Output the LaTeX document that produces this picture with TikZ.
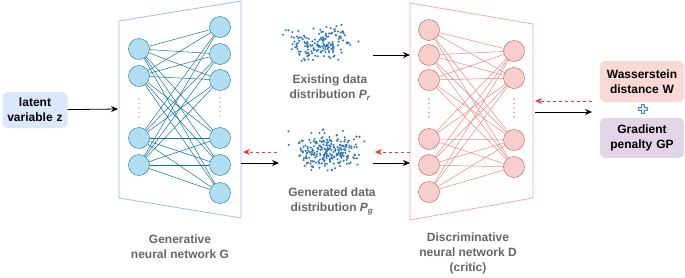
\documentclass[tikz,border=0pt]{standalone}
\usepackage{fontspec}
\setmainfont{Liberation Sans}
\usetikzlibrary{arrows.meta}
\definecolor{latentfill}{HTML}{DAE8FC}
\definecolor{genframe}{HTML}{9DBFEA}
\definecolor{genfill}{HTML}{B1DDF0}
\definecolor{genline}{HTML}{10739E}
\definecolor{disframe}{HTML}{F4A9A6}
\definecolor{disfill}{HTML}{F8CECC}
\definecolor{disline}{HTML}{B85450}
\definecolor{disedge}{HTML}{EE8583}
\definecolor{wfill}{HTML}{FAD9D5}
\definecolor{gpfill}{HTML}{E1D5E7}
\definecolor{labelgray}{HTML}{666666}
\definecolor{dotblue}{HTML}{2F78BE}
\definecolor{backred}{HTML}{FF3333}
\begin{document}
\begin{tikzpicture}[x=1pt,y=-1pt,
    font=\fontsize{12}{15}\selectfont\bfseries,
    neuG/.style={circle, draw=genline, fill=genfill, minimum size=21pt, inner sep=0pt},
    neuD/.style={circle, draw=disline, fill=disfill, minimum size=21pt, inner sep=0pt},
    edgeG/.style={genline, line width=0.5pt},
    edgeD/.style={disedge, line width=0.5pt},
    vdots/.style={line width=1.6pt, line cap=round, dash pattern=on 0pt off 4.5pt},
    box/.style={rounded corners=5pt, align=center, text=black, inner xsep=0pt, inner ysep=1pt},
    caption/.style={align=center, text=labelgray},
    fwd/.style={-{Stealth[length=7pt,width=6pt]}, black, line width=0.8pt},
    back/.style={-{Stealth[length=7pt,width=6pt]}, backred, dashed, line width=0.8pt}]
    \useasboundingbox (0,0) rectangle (685,277);

    % latent input
    \node[box, fill=latentfill, text width=65pt, minimum height=36pt] (latent) at (35,110) {latent\\variable z};

    % Generator
    \draw[genframe, line width=0.8pt] (119,21) -- (241,1) -- (241,218) -- (119,198) -- cycle;
    \foreach \y [count=\i] in {49,76,138,165}
        \node[neuG] (gl\i) at (139,\y) {};
    \foreach \y [count=\i] in {27,54,80,138,165,193}
        \node[neuG] (gr\i) at (220,\y) {};
    \foreach \i in {1,...,4}
        \foreach \j in {1,...,6}
            \draw[edgeG] (gl\i) -- (gr\j);
    \draw[vdots, genframe] (139,99) -- (139,121);
    \draw[vdots, genframe] (220,98) -- (220,120);
    \node[caption] (capG) at (180,246.5) {Generative\\neural network G};

    % Discriminator (critic)
    \draw[disframe, line width=0.8pt] (410,3) -- (533,24) -- (533,198) -- (410,220) -- cycle;
    \foreach \y [count=\i] in {30,55,80,139,165,192}
        \node[neuD] (dl\i) at (429,\y) {};
    \foreach \y [count=\i] in {51,78,140,167}
        \node[neuD] (dr\i) at (514,\y) {};
    \foreach \i in {1,...,6}
        \foreach \j in {1,...,4}
            \draw[edgeD] (dl\i) -- (dr\j);
    \draw[vdots, disedge] (429,99) -- (429,121);
    \draw[vdots, disedge] (514,99) -- (514,121);
    \node[caption] (capD) at (468,253.5) {Discriminative\\neural network D\\(critic)};

    % data clouds
    \pgfmathsetseed{4217}
    \foreach \k in {1,...,170}{
        \pgfmathsetmacro\px{320+15*(rand+rand+rand)}
        \pgfmathsetmacro\py{43+8.5*(rand+rand+rand)}
        \fill[dotblue] (\px,\py) circle (1.15pt);
    }
    \foreach \k in {1,...,240}{
        \pgfmathsetmacro\px{327+14.5*(rand+rand+rand)}
        \pgfmathsetmacro\py{152+9*(rand+rand+rand)}
        \fill[dotblue] (\px,\py) circle (1.15pt);
    }
    \node[caption] (capR) at (330,88) {Existing data\\distribution {\itshape P}\textsubscript{\itshape r}};
    \node[caption] (capGen) at (332,201.5) {Generated data\\distribution {\itshape P}\textsubscript{\itshape g}};

    % loss boxes
    \node[box, fill=wfill, text width=84pt, minimum height=41pt] (wdist) at (642,81.5) {Wasserstein\\distance W};
    \node[box, fill=gpfill, text width=84pt, minimum height=40pt] (gpen) at (642,138) {Gradient\\penalty GP};
    \draw[fill=latentfill, draw=genline!80, line width=0.5pt]
        (641.7,104.5) -- (644.3,104.5) -- (644.3,107.7) -- (647.5,107.7) -- (647.5,110.3) -- (644.3,110.3)
        -- (644.3,113.5) -- (641.7,113.5) -- (641.7,110.3) -- (638.5,110.3) -- (638.5,107.7) -- (641.7,107.7) -- cycle;

    % arrow ends
    \coordinate (gIn) at (118,109);
    \coordinate (gOutA) at (241,163);
    \coordinate (gOutB) at (243,152);
    \coordinate (cgA) at (279,163);
    \coordinate (cgB) at (277,152);
    \coordinate (crOut) at (373,55);
    \coordinate (dInR) at (410,55);
    \coordinate (cgOut) at (373,163);
    \coordinate (dInG) at (410,163);
    \coordinate (dBackA) at (410,152);
    \coordinate (dBackB) at (375,152);
    \coordinate (dOutA) at (535,112);
    \coordinate (dOutB) at (535,101);
    \coordinate (lossIn) at (592,112);
    \coordinate (lossBack) at (592,101);

    \draw[fwd] (latent) -- (gIn);
    \draw[fwd] (gOutA) -- (cgA);
    \draw[back] (cgB) -- (gOutB);
    \draw[fwd] (crOut) -- (dInR);
    \draw[fwd] (cgOut) -- (dInG);
    \draw[back] (dBackA) -- (dBackB);
    \draw[fwd] (dOutA) -- (lossIn);
    \draw[back] (lossBack) -- (dOutB);
\end{tikzpicture}
\end{document}
